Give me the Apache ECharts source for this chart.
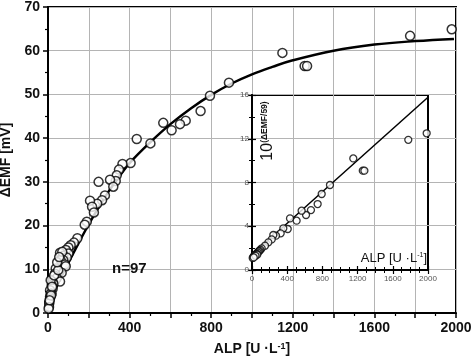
<!DOCTYPE html>
<html>
<head>
<meta charset="utf-8">
<script src="https://cdn.jsdelivr.net/npm/echarts@6/dist/echarts.min.js"></script>
<style>html,body{margin:0;padding:0;background:#fff}#c{width:474px;height:362px}</style>
</head>
<body>
<div id="c"></div>
<script>
// ---- main panel: measured points (ALP, ΔEMF) ----
var mainAlp = [1979,1775,1149,1258,1270,887,794,748,675,647,606,565,502,435,405,365,348,337,332,304,320,248,279,265,241,206,216,225,190,180,144,127,111,100,88,100,59,75,92,75,62,83,87,67,38,34,43,59,23,26,18,13,23,10,18,13,10,10,6,6,5,3,30,50,45,70,55,20,15,8];
var mainEmf = [64.9,63.4,59.5,56.5,56.5,52.7,49.7,46.2,44.0,43.2,41.8,43.5,38.8,39.8,34.3,34.1,32.8,31.5,30.2,30.5,28.9,30.0,26.9,25.8,25.0,25.7,24.3,23.0,20.9,20.2,17.1,16.1,15.5,15.0,14.4,13.6,13.8,13.1,12.7,12.1,12.1,11.1,10.7,9.2,10.2,9.0,8.0,7.2,7.1,6.7,6.3,7.5,5.6,5.2,4.4,4.4,3.7,3.3,2.5,2.2,1.4,1.0,8.6,9.8,11.6,14.0,12.8,6.0,4.0,2.9];
// ---- main panel: fitted curve ----
var fitAlp = [0,50,100,150,200,250,300,350,400,500,600,700,800,900,1000,1100,1200,1400,1600,1800,1990];
var fitEmf = [2.0,6.8,11.5,16.0,20.3,24.3,28.0,31.3,34.3,39.0,43.2,46.8,49.9,52.5,54.6,56.3,57.8,60.0,61.4,62.2,62.7];
// ---- inset: 10^(ΔEMF/59) vs ALP ----
var insetAlp = [1985,1776,1151,1259,1277,886,792,746,670,614,564,507,432,406,356,326,273,242,224,186,148,110,95,85,75,65,55,45,35,25,15,8,60,40,20];
var insetVal = [12.5,11.9,10.2,9.08,9.08,7.77,6.95,6.03,5.48,5.03,5.42,4.51,4.72,3.75,3.81,3.35,3.14,3.20,2.80,2.53,2.22,1.98,1.85,1.75,1.70,1.60,1.50,1.45,1.35,1.30,1.20,1.10,1.40,1.30,1.15];
var insetLineAlp = [0,2000];
var insetLineVal = [1.4,15.8];
// ---- ticks ----
var mainXTicks = [0,400,800,1200,1600,2000];
var mainYTicks = [0,10,20,30,40,50,60,70];
var insetXTicks = [0,400,800,1200,1600,2000];
var insetYTicks = [0,4,8,12,16];

function zip(a,b){return a.map(function(v,i){return [v,b[i]];});}
var FONT = 'Liberation Sans, Arial, sans-serif';

var chart = echarts.init(document.getElementById('c'), null, {renderer:'canvas'});
var option = {
  animation:false,
  backgroundColor:'#fff',
  grid:[
    {left:48, top:7, width:408, height:306, show:true, borderColor:'#000', borderWidth:2, backgroundColor:'transparent', containLabel:false, outerBoundsMode:'none'},
    {left:252, top:95, width:176, height:175, show:true, borderColor:'#000', borderWidth:2, backgroundColor:'transparent', containLabel:false, outerBoundsMode:'none'}
  ],
  xAxis:[
    {gridIndex:0, type:'value', min:0, max:2000, interval:200,
     name:'ALP [U ·L{sup|-1}]', nameLocation:'middle', nameGap:29,
     nameTextStyle:{fontFamily:FONT, fontWeight:'bold', fontSize:14, color:'#111',
       rich:{sup:{fontFamily:FONT, fontWeight:'bold', fontSize:9, verticalAlign:'top', color:'#111'}}},
     axisLine:{lineStyle:{color:'#000', width:2}},
     axisTick:{length:5, lineStyle:{color:'#000', width:1.5}},
     minorTick:{show:true, splitNumber:2, length:3, lineStyle:{color:'#000', width:1.2}},
     axisLabel:{fontFamily:FONT, fontWeight:'bold', fontSize:14, color:'#111', margin:8,
       formatter:function(v){return mainXTicks.indexOf(v)>=0 ? String(v) : '';}},
     splitLine:{show:true, lineStyle:{color:'#b4b4b4', width:1}}
    },
    {gridIndex:1, type:'value', min:0, max:2000, interval:400,
     axisLine:{lineStyle:{color:'#000', width:2}},
     axisTick:{inside:true, length:4, lineStyle:{color:'#000', width:1.2}},
     minorTick:{show:true, splitNumber:4, length:3, lineStyle:{color:'#000', width:1}},
     axisLabel:{fontFamily:FONT, fontSize:8, color:'#555', margin:5,
       formatter:function(v){return insetXTicks.indexOf(v)>=0 ? String(v) : '';}},
     splitLine:{show:false}
    },
    {gridIndex:1, type:'value', position:'top', min:0, max:2000, interval:400,
     axisLine:{lineStyle:{color:'#000', width:2}},
     axisTick:{inside:true, length:4, lineStyle:{color:'#000', width:1.2}},
     minorTick:{show:true, splitNumber:4, length:3, lineStyle:{color:'#000', width:1}},
     axisLabel:{show:false}, splitLine:{show:false}
    }
  ],
  yAxis:[
    {gridIndex:0, type:'value', min:0, max:70, interval:10,
     name:'ΔEMF [mV]', nameLocation:'middle', nameGap:34,
     nameTextStyle:{fontFamily:FONT, fontWeight:'bold', fontSize:14, color:'#111'},
     axisLine:{lineStyle:{color:'#000', width:2}},
     axisTick:{length:5, lineStyle:{color:'#000', width:1.5}},
     minorTick:{show:true, splitNumber:2, length:3, lineStyle:{color:'#000', width:1.2}},
     axisLabel:{fontFamily:FONT, fontWeight:'bold', fontSize:14, color:'#111', margin:8,
       formatter:function(v){return mainYTicks.indexOf(v)>=0 ? String(v) : '';}},
     splitLine:{show:true, lineStyle:{color:'#b4b4b4', width:1}}
    },
    {gridIndex:1, type:'value', min:0, max:16, interval:4,
     axisLine:{lineStyle:{color:'#000', width:2}},
     axisTick:{inside:true, length:4, lineStyle:{color:'#000', width:1.2}},
     minorTick:{show:true, splitNumber:2, length:3, lineStyle:{color:'#000', width:1}},
     axisLabel:{fontFamily:FONT, fontSize:8, color:'#555', margin:3,
       formatter:function(v){return insetYTicks.indexOf(v)>=0 ? String(v) : '';}},
     splitLine:{show:false}
    },
    {gridIndex:1, type:'value', position:'right', min:0, max:16, interval:4,
     axisLine:{lineStyle:{color:'#000', width:2}},
     axisTick:{inside:true, length:4, lineStyle:{color:'#000', width:1.2}},
     minorTick:{show:true, splitNumber:2, length:3, lineStyle:{color:'#000', width:1}},
     axisLabel:{show:false}, splitLine:{show:false}
    }
  ],
  series:[
    {type:'line', xAxisIndex:0, yAxisIndex:0, data:zip(fitAlp,fitEmf), smooth:0.4, showSymbol:false,
     lineStyle:{color:'#000', width:2.5}, z:2},
    {type:'scatter', xAxisIndex:0, yAxisIndex:0, data:zip(mainAlp,mainEmf), symbol:'circle', symbolSize:9,
     itemStyle:{color:'#fff', borderColor:'#000', borderWidth:1.5}, z:3},
    {type:'line', xAxisIndex:1, yAxisIndex:1, data:zip(insetLineAlp,insetLineVal), showSymbol:false,
     lineStyle:{color:'#000', width:1.5}, z:2},
    {type:'scatter', xAxisIndex:1, yAxisIndex:1, data:zip(insetAlp,insetVal), symbol:'circle', symbolSize:7,
     itemStyle:{color:'#fff', borderColor:'#000', borderWidth:1.3}, z:3}
  ],
  graphic:[
    {type:'text', left:112, top:261, z:10,
     style:{text:'n=97', fontFamily:FONT, fontWeight:'bold', fontSize:15, fill:'#111'}},
    {type:'text', x:427, y:258, z:10,
     style:{text:'ALP [U ·L{sup|-1}]', fontFamily:FONT, fontSize:13, fill:'#111', align:'right', verticalAlign:'middle',
       rich:{sup:{fontFamily:FONT, fontSize:7, verticalAlign:'top', fill:'#111'}}}},
    {type:'text', x:268, y:131, rotation:Math.PI/2, z:10,
     style:{text:'{big|10}{sup|(ΔEMF/59)}', align:'center', verticalAlign:'middle',
       rich:{big:{fontFamily:FONT, fontSize:16, fill:'#111'},
             sup:{fontFamily:FONT, fontSize:8.5, fontWeight:'bold', verticalAlign:'top', fill:'#111'}}}}
  ]
};
chart.setOption(option);
</script>
</body>
</html>
